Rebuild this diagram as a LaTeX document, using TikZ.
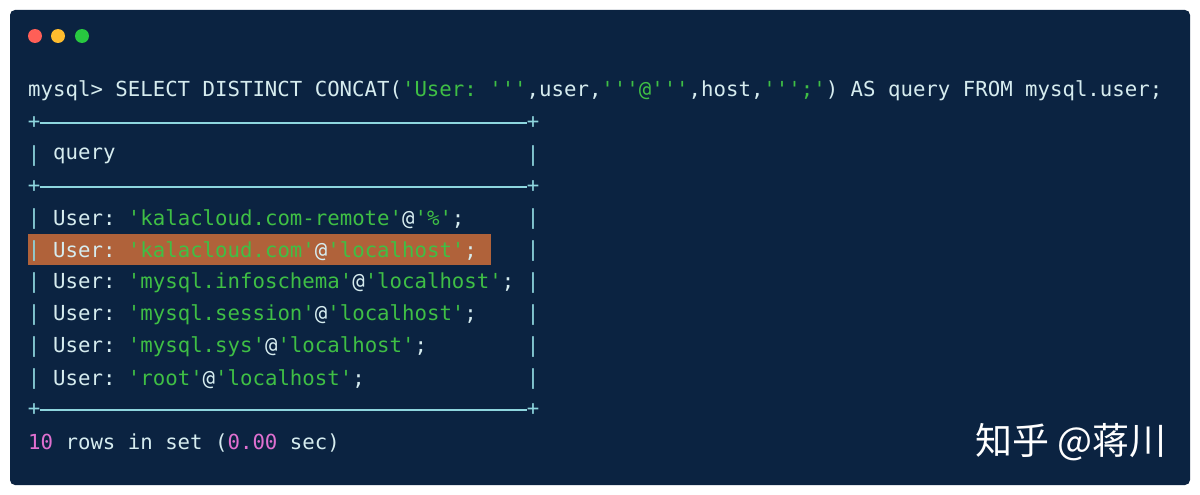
\documentclass[tikz,border=0pt]{standalone}
\usepackage{fontspec}
\setmonofont{DejaVu Sans Mono}
\newfontfamily\cjk{Noto Sans CJK SC}
\definecolor{bg}{HTML}{0B2341}
\definecolor{fg}{HTML}{D6ECEF}
\definecolor{gr}{HTML}{3FBF45}
\definecolor{pk}{HTML}{E070D0}
\definecolor{bd}{HTML}{8ED6DE}
\definecolor{hl}{HTML}{B0623A}
\newcommand{\gs}[1]{\textcolor{gr}{#1}}
\newcommand{\pn}[1]{\textcolor{pk}{#1}}
\begin{document}
\begin{tikzpicture}[x=1pt,y=-1pt,
  txt/.style={anchor=west,inner sep=0pt,text=fg,font=\ttfamily\fontsize{20.7}{24}\selectfont},
  bar/.style={inner sep=0pt,text=bd,font=\ttfamily\fontsize{20.7}{24}\selectfont},
  rule/.style={bd,line width=1.2pt},
  dot/.style={circle,minimum size=14pt,inner sep=0pt}]
\useasboundingbox (0,0) rectangle (1200,495);
\fill[white] (0,0) rectangle (1200,495);
\fill[bg,rounded corners=5pt] (10,10) rectangle (1190,485);
\node[dot,fill={rgb,255:red,255;green,95;blue,87}] (d1) at (35,36) {};
\node[dot,fill={rgb,255:red,254;green,188;blue,46}] (d2) at (58,36) {};
\node[dot,fill={rgb,255:red,40;green,200;blue,64}] (d3) at (82,36) {};
\fill[hl] (28,234) rectangle (491,265);
\node[txt] (l0) at (28,91) {mysql> SELECT DISTINCT CONCAT(\gs{'User: '''},user,\gs{'''@'''},host,\gs{''';'}) AS query FROM mysql.user;};
% borders
\foreach \y/\n in {123/a,187/b,410/c}{
  \node[bar] (pl\n) at (34,\y) {+};
  \node[bar] (pr\n) at (533,\y) {+};
  \draw[rule] (pl\n.east) -- (pr\n.west);
}
\foreach \y in {156,219,251,283,315,347,379}{
  \node[bar] at (34,\y) {|};
  \node[bar] at (533,\y) {|};
}
\node[txt] (h) at (53,156) {query};
\node[txt] (r1) at (53,219) {User: \gs{'kalacloud.com-remote'}@\gs{'\%'};};
\node[txt] (r2) at (53,251) {User: \gs{'kalacloud.com'}@\gs{'localhost'};};
\node[txt] (r3) at (53,283) {User: \gs{'mysql.infoschema'}@\gs{'localhost'};};
\node[txt] (r4) at (53,315) {User: \gs{'mysql.session'}@\gs{'localhost'};};
\node[txt] (r5) at (53,347) {User: \gs{'mysql.sys'}@\gs{'localhost'};};
\node[txt] (r6) at (53,379) {User: \gs{'root'}@\gs{'localhost'};};
\node[txt] (ft) at (28,443) {\pn{10} rows in set (\pn{0.00} sec)};
\node[anchor=east,inner sep=0pt,text=white,font=\cjk\fontsize{37}{42}\selectfont] (wm) at (1167,442) {知乎 @蒋川};
\end{tikzpicture}
\end{document}
